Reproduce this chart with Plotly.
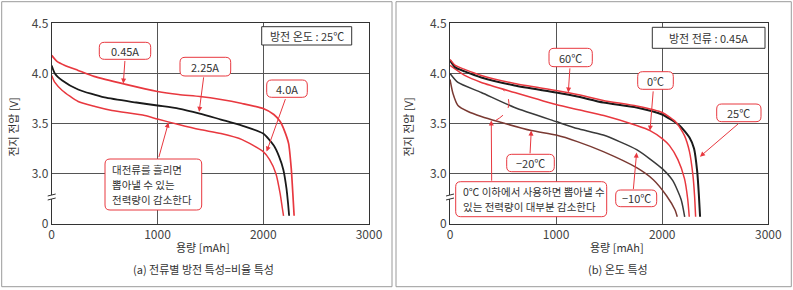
import plotly.graph_objects as go

# ---------------- data ----------------
# (a) discharge by current, 25 degC
cap_045 = [0, 50, 125, 250, 400, 700, 1000, 1200, 1400, 1600, 1800, 2000, 2100, 2160, 2200, 2240, 2265, 2280, 2292]
v_045 = [4.18, 4.12, 4.08, 4.03, 3.97, 3.89, 3.82, 3.79, 3.77, 3.74, 3.70, 3.65, 3.59, 3.52, 3.43, 3.30, 3.05, 2.80, 2.58]
cap_225 = [0, 30, 100, 250, 500, 800, 1000, 1200, 1400, 1600, 1800, 2000, 2100, 2150, 2190, 2220, 2235, 2245]
v_225 = [4.08, 4.00, 3.93, 3.84, 3.76, 3.71, 3.68, 3.65, 3.60, 3.54, 3.48, 3.40, 3.28, 3.17, 3.04, 2.85, 2.70, 2.58]
cap_40 = [0, 30, 100, 250, 410, 570, 880, 1000, 1200, 1400, 1600, 1800, 2000, 2060, 2120, 2160, 2180, 2192]
v_40 = [3.98, 3.91, 3.83, 3.72, 3.67, 3.63, 3.58, 3.545, 3.49, 3.44, 3.40, 3.34, 3.22, 3.14, 3.00, 2.80, 2.66, 2.58]

# (b) discharge by temperature, 0.45 A
cap_60 = [0, 50, 138, 295, 609, 1000, 1200, 1445, 1759, 2000, 2132, 2210, 2257, 2290, 2305, 2315]
v_60 = [4.14, 4.08, 4.04, 3.98, 3.90, 3.83, 3.79, 3.73, 3.675, 3.61, 3.51, 3.38, 3.22, 2.98, 2.78, 2.57]
cap_25 = [0, 50, 138, 295, 609, 1000, 1200, 1445, 1759, 2000, 2163, 2257, 2300, 2330, 2345, 2357]
v_25 = [4.13, 4.06, 4.02, 3.96, 3.88, 3.81, 3.77, 3.71, 3.66, 3.59, 3.48, 3.36, 3.25, 3.02, 2.80, 2.57]
cap_0 = [0, 138, 295, 609, 1000, 1200, 1450, 1759, 1885, 2000, 2069, 2148, 2210, 2240, 2255]
v_0 = [4.08, 3.98, 3.91, 3.81, 3.69, 3.64, 3.58, 3.48, 3.43, 3.35, 3.28, 3.14, 2.95, 2.75, 2.57]
cap_m10 = [0, 75, 295, 609, 1000, 1200, 1445, 1759, 2000, 2100, 2179, 2212]
v_m10 = [4.00, 3.91, 3.81, 3.66, 3.52, 3.45, 3.385, 3.24, 3.05, 2.93, 2.74, 2.57]
cap_m20 = [0, 28, 75, 170, 295, 452, 766, 1000, 1200, 1445, 1759, 1916, 2041, 2120, 2142]
v_m20 = [3.94, 3.80, 3.68, 3.62, 3.57, 3.52, 3.43, 3.385, 3.32, 3.22, 3.06, 2.94, 2.78, 2.64, 2.57]

x_ticks = [0, 1000, 2000, 3000]
x_ticktext = ["0", "1000", "2000", "3000"]
y_ticks = [2.5, 3.0, 3.5, 4.0, 4.5]
y_ticktext = ["0", "3.0", "3.5", "4.0", "4.5"]

# ---------------- style / layout helpers ----------------
W, H = 793, 290
FONT = "Noto Sans CJK KR"
RED = "#e8383f"
BLACK = "#1a1a1a"
BROWN = "#7a3a33"
DARK = "#3a3a3a"
TXT = "#333333"


def fx(px):
    return px / W


def fy(py):
    return 1 - py / H


fig = go.Figure()


def add_curve(x, y, color, width, xa, ya):
    fig.add_trace(go.Scatter(x=x, y=y, mode="lines", xaxis=xa, yaxis=ya,
                             line=dict(color=color, width=width, shape="spline", smoothing=0.6),
                             hoverinfo="skip", showlegend=False))


add_curve(cap_40, v_40, RED, 1.5, "x", "y")
add_curve(cap_045, v_045, RED, 1.7, "x", "y")
add_curve(cap_225, v_225, BLACK, 1.8, "x", "y")

add_curve(cap_m20, v_m20, BROWN, 1.5, "x2", "y2")
add_curve(cap_m10, v_m10, DARK, 1.5, "x2", "y2")
add_curve(cap_0, v_0, RED, 1.5, "x2", "y2")
add_curve(cap_25, v_25, BLACK, 2.0, "x2", "y2")
add_curve(cap_60, v_60, RED, 1.5, "x2", "y2")

axis_common = dict(showgrid=True, gridcolor="#555555", gridwidth=1, showline=True,
                   linecolor="#333333", linewidth=1, mirror=True, ticks="", zeroline=False,
                   tickfont=dict(size=12, color="#444444", family=FONT), automargin=False,
                   fixedrange=True)

xdom_a = [fx(51.7), fx(369)]
xdom_b = [fx(450), fx(768.3)]
ydom = [fy(223.8), fy(23.3)]

fig.update_layout(
    width=W, height=H, margin=dict(l=0, r=0, t=0, b=0),
    paper_bgcolor="white", plot_bgcolor="white", showlegend=False,
    font=dict(family=FONT, color=TXT),
    xaxis=dict(domain=xdom_a, range=[0, 3000], tickvals=x_ticks, ticktext=x_ticktext,
               anchor="y", **axis_common),
    yaxis=dict(domain=ydom, range=[2.5, 4.5], tickvals=y_ticks, ticktext=y_ticktext,
               anchor="x", **axis_common),
    xaxis2=dict(domain=xdom_b, range=[0, 3000], tickvals=x_ticks, ticktext=x_ticktext,
                anchor="y2", **axis_common),
    yaxis2=dict(domain=ydom, range=[2.5, 4.5], tickvals=y_ticks, ticktext=y_ticktext,
                anchor="x2", **axis_common),
)

shapes = []
annos = []

# panel frames
for l, r in [(1.7, 392), (396, 791.3)]:
    shapes.append(dict(type="rect", xref="paper", yref="paper", x0=fx(l), x1=fx(r),
                       y0=fy(286.7), y1=fy(1.7), line=dict(color="#9a9a9a", width=1),
                       layer="below"))


def rounded(l, t, r, b, rad=5):
    p = [
        f"M {fx(l + rad)},{fy(t)}",
        f"L {fx(r - rad)},{fy(t)}",
        f"Q {fx(r)},{fy(t)} {fx(r)},{fy(t + rad)}",
        f"L {fx(r)},{fy(b - rad)}",
        f"Q {fx(r)},{fy(b)} {fx(r - rad)},{fy(b)}",
        f"L {fx(l + rad)},{fy(b)}",
        f"Q {fx(l)},{fy(b)} {fx(l)},{fy(b - rad)}",
        f"L {fx(l)},{fy(t + rad)}",
        f"Q {fx(l)},{fy(t)} {fx(l + rad)},{fy(t)}",
        "Z",
    ]
    return " ".join(p)


# callout boxes: (lines, l, t, r, b, align)
callouts = [
    (["0.45A"], 99.3, 42.3, 150.7, 59.3, "center"),
    (["2.25A"], 180, 57.3, 230.7, 76, "center"),
    (["4.0A"], 266.7, 80, 307.3, 97.3, "center"),
    (["대전류를 흘리면", "뽑아낼 수 있는", "전력량이 감소한다"], 105, 159, 201.7, 210, "left"),
    (["60℃"], 549, 48.3, 592.3, 66.7, "center"),
    (["0℃"], 637.7, 71.7, 673.3, 89.3, "center"),
    (["25℃"], 716.7, 104, 761, 121.7, "center"),
    (["−20℃"], 506.7, 154.3, 554.3, 171.7, "center"),
    (["−10℃"], 615.7, 190, 656.7, 206.7, "center"),
    (["0℃ 이하에서 사용하면 뽑아낼 수", "있는 전력량이 대부분 감소한다"], 455.7, 181.7, 606.7, 216.7, "left"),
]
LINE_H = 15
for lines, l, t, r, b, al in callouts:
    shapes.append(dict(type="path", xref="paper", yref="paper", path=rounded(l, t, r, b),
                       line=dict(color=RED, width=1), fillcolor="white", layer="above"))
    n = len(lines)
    cy = (t + b) / 2
    fs = 11 if n == 1 else 10.5
    for i, line in enumerate(lines):
        ly = cy + (i - (n - 1) / 2) * LINE_H
        if al == "center":
            annos.append(dict(xref="paper", yref="paper", x=fx((l + r) / 2), y=fy(ly),
                              text=line, showarrow=False, xanchor="center", yanchor="middle",
                              font=dict(size=fs, color=TXT, family=FONT)))
        else:
            annos.append(dict(xref="paper", yref="paper", x=fx(l + 5), y=fy(ly),
                              text=line, showarrow=False, xanchor="left", yanchor="middle",
                              font=dict(size=fs, color=TXT, family=FONT)))

# condition boxes (square, dark border)
for text, l, t, r, b in [("방전 온도 : 25℃", 261.7, 26.7, 351.7, 45),
                         ("방전 전류 : 0.45A", 652.3, 27.3, 765, 48.3)]:
    shapes.append(dict(type="rect", xref="paper", yref="paper", x0=fx(l), x1=fx(r),
                       y0=fy(b), y1=fy(t), line=dict(color="#333333", width=1),
                       fillcolor="white", layer="above"))
    annos.append(dict(xref="paper", yref="paper", x=fx((l + r) / 2), y=fy((t + b) / 2),
                      text=text, showarrow=False, xanchor="center", yanchor="middle",
                      font=dict(size=11, color=TXT, family=FONT)))

# arrows: (xref, yref, tip_x, tip_y, ax_px, ay_px)
arrows = [
    ("x", "y", 677, 3.90, 1.7, -24),
    ("x", "y", 1394, 3.617, 4.7, -36),
    ("x", "y", 2032, 3.22, 19.3, -54),
    ("x", "y", 1104, 3.51, -10, 36),
    ("x2", "y2", 1115, 3.81, 1.7, -25.6),
    ("x2", "y2", 1885, 3.43, 3.3, -40.7),
    ("x2", "y2", 2356, 3.17, 40, -34.3),
    ("x2", "y2", 766, 3.43, -1.3, 24.3),
    ("x2", "y2", 1759, 3.21, -3.4, 38),
    ("x2", "y2", 389, 3.53, 0.4, 61.7),
]
for xr, yr, x, y, ax, ay in arrows:
    annos.append(dict(xref=xr, yref=yr, x=x, y=y, ax=ax, ay=ay, text="", showarrow=True,
                      arrowhead=2, arrowsize=1, arrowwidth=1, arrowcolor=RED, standoff=0))

# dashed bracket (right panel)
shapes.append(dict(type="path", xref="x2", yref="y2",
                   path="M 430,3.53 Q 640,3.66 500,3.84",
                   line=dict(color=RED, width=1, dash="dash"), layer="above"))

# axis break marks
for x0 in [51.7, 450]:
    shapes.append(dict(type="rect", xref="paper", yref="paper", x0=fx(x0 - 2), x1=fx(x0 + 2),
                       y0=fy(199), y1=fy(195), line=dict(width=0), fillcolor="white",
                       layer="above"))
    for py in [195, 199]:
        shapes.append(dict(type="line", xref="paper", yref="paper", x0=fx(x0 - 4), x1=fx(x0 + 4),
                           y0=fy(py + 1), y1=fy(py - 1), line=dict(color="#333333", width=1),
                           layer="above"))

# axis titles and captions
for cx in [12.5, 407.5]:
    annos.append(dict(xref="paper", yref="paper", x=fx(cx), y=fy(127), text="전지 전압 [V]",
                      textangle=-90, showarrow=False, xanchor="center", yanchor="middle",
                      font=dict(size=11, color=TXT, family=FONT)))
for cx in [203.3, 616.7]:
    annos.append(dict(xref="paper", yref="paper", x=fx(cx), y=fy(246.5), text="용량 [mAh]",
                      showarrow=False, xanchor="center", yanchor="middle",
                      font=dict(size=11, color=TXT, family=FONT)))
annos.append(dict(xref="paper", yref="paper", x=fx(203), y=fy(269), text="(a) 전류별 방전 특성=비율 특성",
                  showarrow=False, xanchor="center", yanchor="middle",
                  font=dict(size=11, color=TXT, family=FONT)))
annos.append(dict(xref="paper", yref="paper", x=fx(617.5), y=fy(269), text="(b) 온도 특성",
                  showarrow=False, xanchor="center", yanchor="middle",
                  font=dict(size=11, color=TXT, family=FONT)))

fig.update_layout(shapes=shapes, annotations=annos)
fig.write_html("out.html")
